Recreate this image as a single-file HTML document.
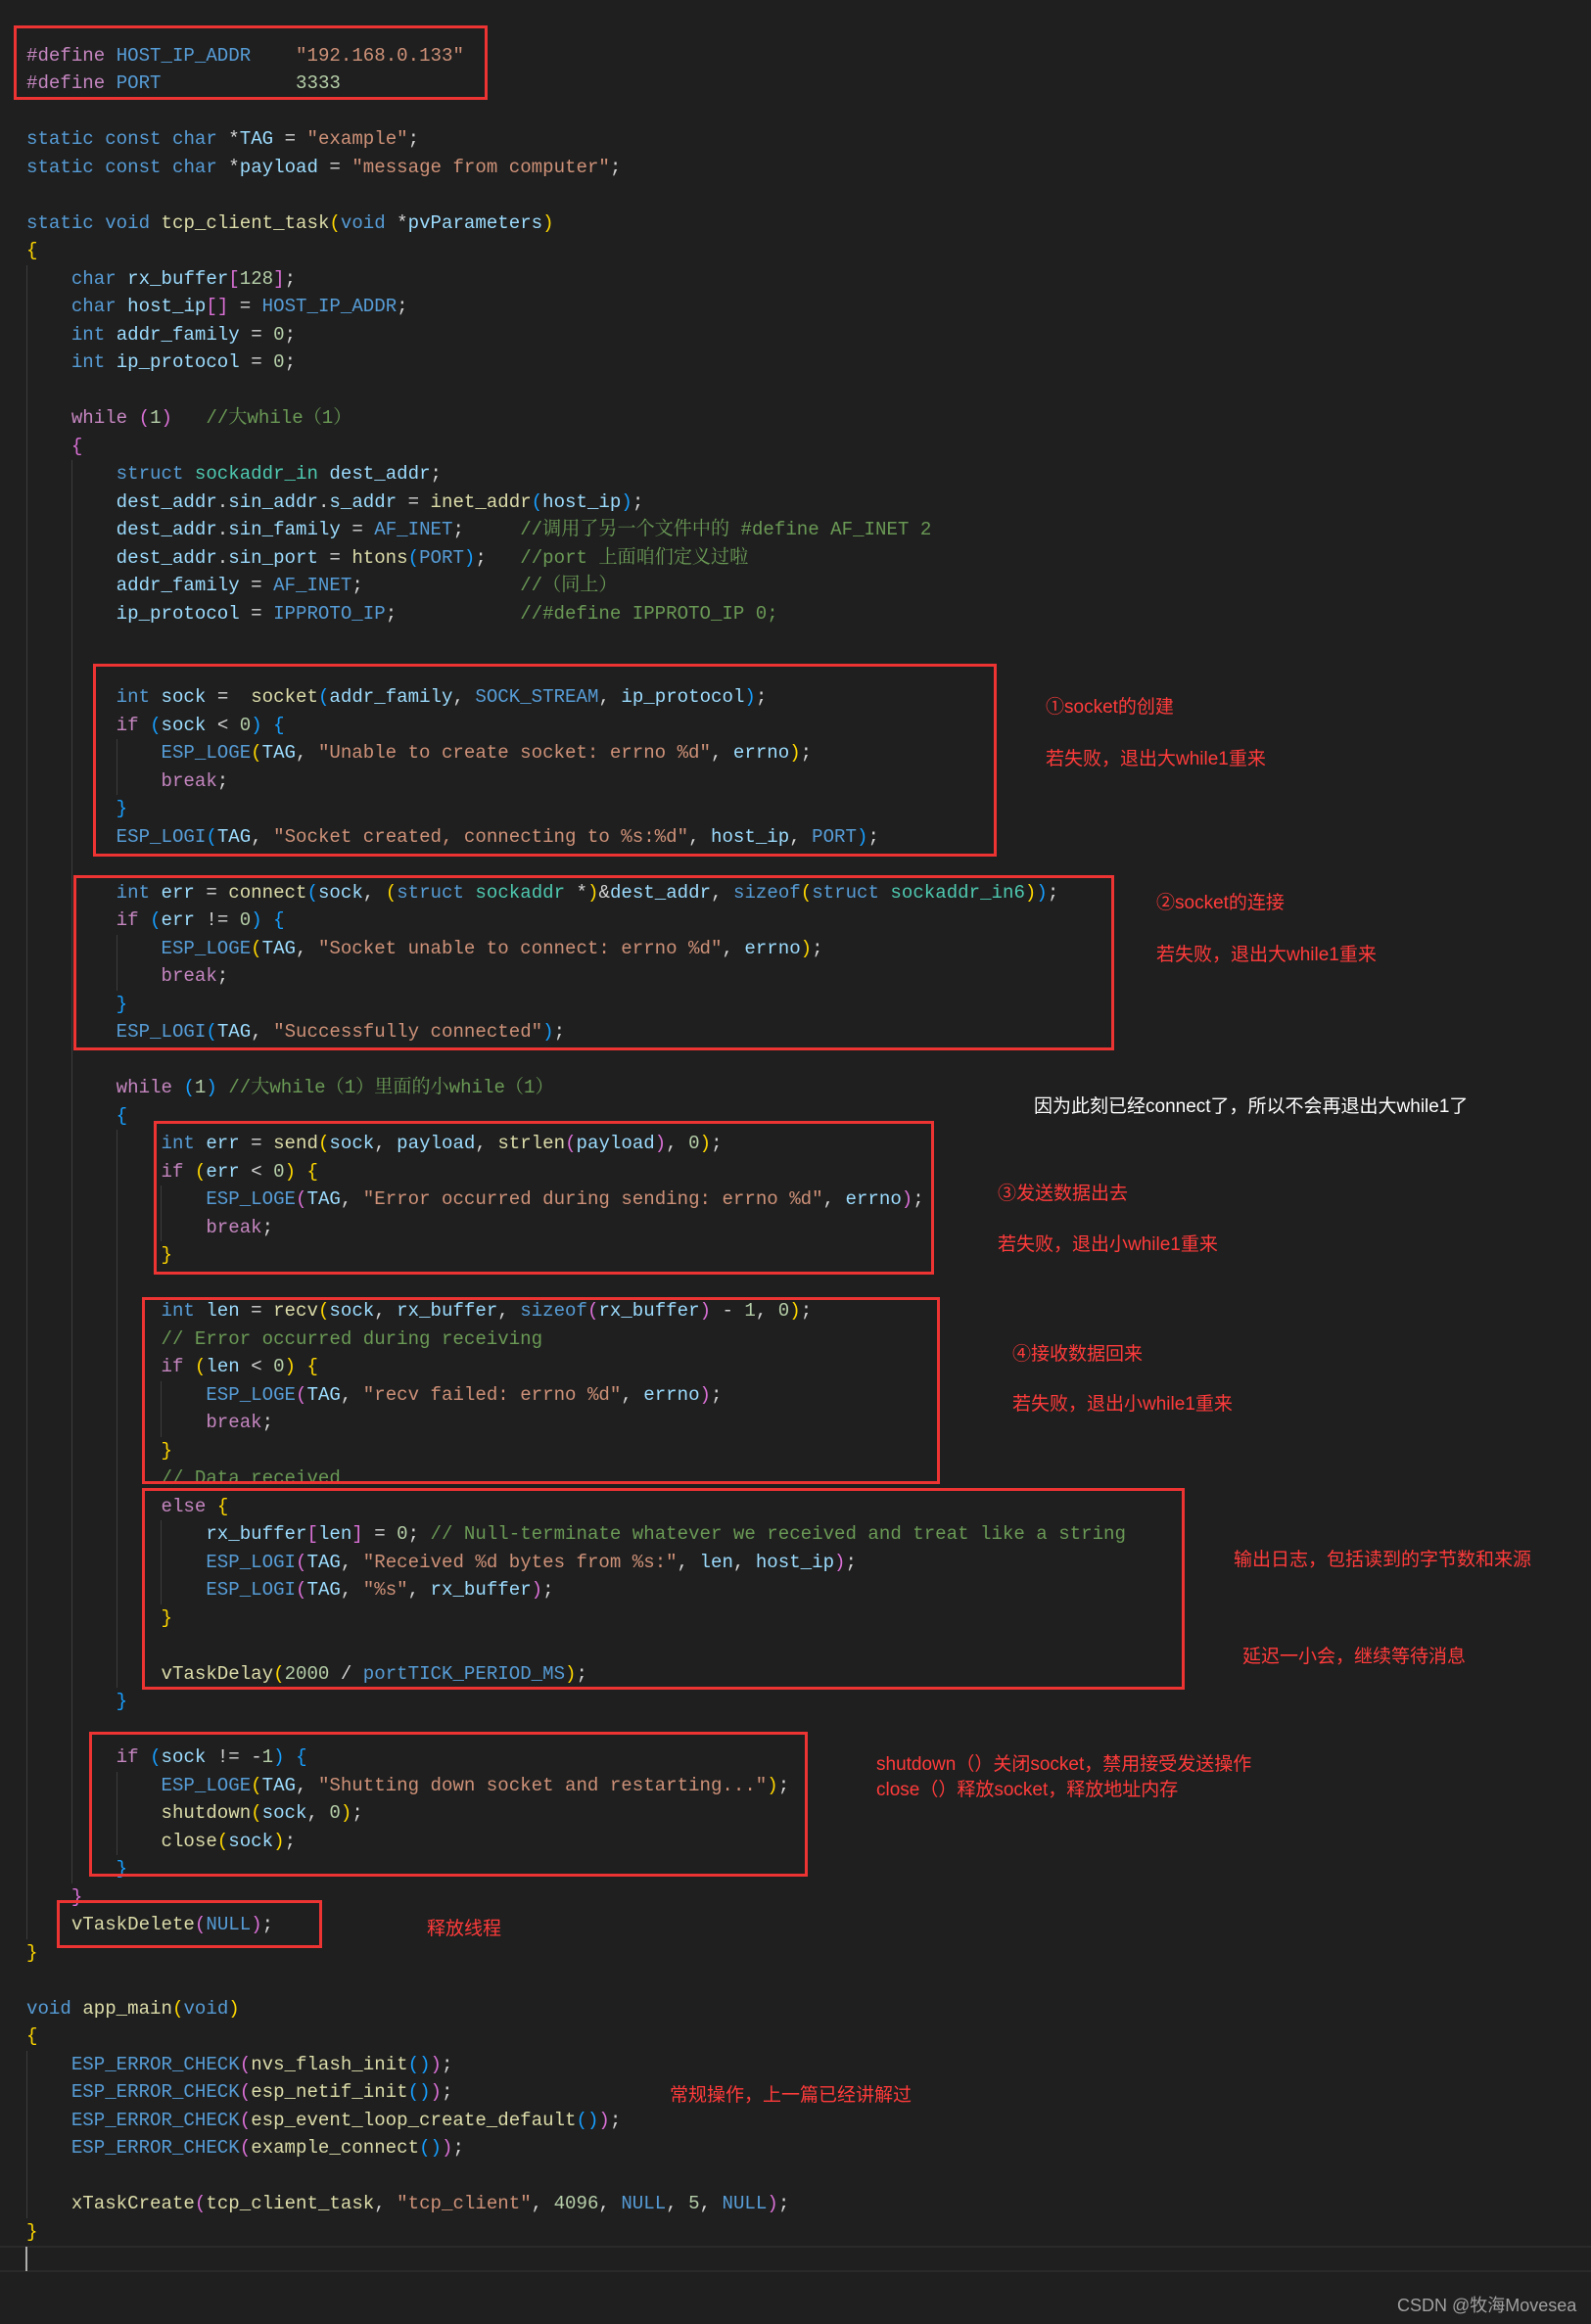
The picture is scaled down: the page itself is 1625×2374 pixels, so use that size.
<!DOCTYPE html>
<html><head><meta charset="utf-8"><style>
html,body{margin:0;padding:0;background:#1f1f1f;}
body{width:1625px;height:2374px;position:relative;overflow:hidden;}
pre{position:absolute;left:27px;top:42.75px;margin:0;font-family:"Liberation Mono","Noto Sans CJK SC",monospace;font-size:19.1px;line-height:28.5px;color:#d4d4d4;white-space:pre;}
.k{color:#569cd6}.c{color:#c586c0}.f{color:#dcdcaa}.v{color:#9cdcfe}.s{color:#ce9178}.n{color:#b5cea8}.cm{color:#6a9955}.cm2{color:#6a9955;font-family:"Liberation Mono","Noto Serif CJK SC",monospace}.t{color:#4ec9b0}
.y{color:#ffd700}.p{color:#da70d6}.b{color:#179fff}
.box{position:absolute;border:3px solid #ee3333;box-sizing:border-box;}
.g{position:absolute;width:1px;background:#3c3c3c;}
.a{position:absolute;font-family:"Liberation Sans","Noto Sans CJK SC",sans-serif;font-size:19px;color:#ff3b3b;white-space:nowrap;line-height:1;}
</style></head><body>
<div class="g" style="left:27px;top:270.75px;height:1710px"></div>
<div class="g" style="left:73px;top:470.25px;height:1453.5px"></div>
<div class="g" style="left:118.6px;top:755.25px;height:57px"></div>
<div class="g" style="left:118.6px;top:954.75px;height:57px"></div>
<div class="g" style="left:118.6px;top:1154.25px;height:570px"></div>
<div class="g" style="left:164px;top:1211.25px;height:57px"></div>
<div class="g" style="left:164px;top:1410.75px;height:57px"></div>
<div class="g" style="left:164px;top:1553.25px;height:85.5px"></div>
<div class="g" style="left:118.6px;top:1809.75px;height:85.5px"></div>
<div class="g" style="left:27px;top:2094.75px;height:171px"></div>
<pre><span class="c">#define</span> <span class="k">HOST_IP_ADDR</span>    <span class="s">"192.168.0.133"</span>
<span class="c">#define</span> <span class="k">PORT</span>            <span class="n">3333</span>

<span class="k">static</span> <span class="k">const</span> <span class="k">char</span> *<span class="v">TAG</span> = <span class="s">"example"</span>;
<span class="k">static</span> <span class="k">const</span> <span class="k">char</span> *<span class="v">payload</span> = <span class="s">"message from computer"</span>;

<span class="k">static</span> <span class="k">void</span> <span class="f">tcp_client_task</span><span class="y">(</span><span class="k">void</span> *<span class="v">pvParameters</span><span class="y">)</span>
<span class="y">{</span>
    <span class="k">char</span> <span class="v">rx_buffer</span><span class="p">[</span><span class="n">128</span><span class="p">]</span>;
    <span class="k">char</span> <span class="v">host_ip</span><span class="p">[]</span> = <span class="k">HOST_IP_ADDR</span>;
    <span class="k">int</span> <span class="v">addr_family</span> = <span class="n">0</span>;
    <span class="k">int</span> <span class="v">ip_protocol</span> = <span class="n">0</span>;

    <span class="c">while</span> <span class="p">(</span><span class="n">1</span><span class="p">)</span>   <span class="cm2">//大while（1）</span>
    <span class="p">{</span>
        <span class="k">struct</span> <span class="t">sockaddr_in</span> <span class="v">dest_addr</span>;
        <span class="v">dest_addr</span>.<span class="v">sin_addr</span>.<span class="v">s_addr</span> = <span class="f">inet_addr</span><span class="b">(</span><span class="v">host_ip</span><span class="b">)</span>;
        <span class="v">dest_addr</span>.<span class="v">sin_family</span> = <span class="k">AF_INET</span>;     <span class="cm2">//调用了另一个文件中的 #define AF_INET 2</span>
        <span class="v">dest_addr</span>.<span class="v">sin_port</span> = <span class="f">htons</span><span class="b">(</span><span class="k">PORT</span><span class="b">)</span>;   <span class="cm2">//port 上面咱们定义过啦</span>
        <span class="v">addr_family</span> = <span class="k">AF_INET</span>;              <span class="cm2">//（同上）</span>
        <span class="v">ip_protocol</span> = <span class="k">IPPROTO_IP</span>;           <span class="cm2">//#define IPPROTO_IP 0;</span>


        <span class="k">int</span> <span class="v">sock</span> =  <span class="f">socket</span><span class="b">(</span><span class="v">addr_family</span>, <span class="k">SOCK_STREAM</span>, <span class="v">ip_protocol</span><span class="b">)</span>;
        <span class="c">if</span> <span class="b">(</span><span class="v">sock</span> &lt; <span class="n">0</span><span class="b">)</span> <span class="b">{</span>
            <span class="k">ESP_LOGE</span><span class="y">(</span><span class="v">TAG</span>, <span class="s">"Unable to create socket: errno %d"</span>, <span class="v">errno</span><span class="y">)</span>;
            <span class="c">break</span>;
        <span class="b">}</span>
        <span class="k">ESP_LOGI</span><span class="b">(</span><span class="v">TAG</span>, <span class="s">"Socket created, connecting to %s:%d"</span>, <span class="v">host_ip</span>, <span class="k">PORT</span><span class="b">)</span>;

        <span class="k">int</span> <span class="v">err</span> = <span class="f">connect</span><span class="b">(</span><span class="v">sock</span>, <span class="y">(</span><span class="k">struct</span> <span class="t">sockaddr</span> *<span class="y">)</span>&amp;<span class="v">dest_addr</span>, <span class="k">sizeof</span><span class="y">(</span><span class="k">struct</span> <span class="t">sockaddr_in6</span><span class="y">)</span><span class="b">)</span>;
        <span class="c">if</span> <span class="b">(</span><span class="v">err</span> != <span class="n">0</span><span class="b">)</span> <span class="b">{</span>
            <span class="k">ESP_LOGE</span><span class="y">(</span><span class="v">TAG</span>, <span class="s">"Socket unable to connect: errno %d"</span>, <span class="v">errno</span><span class="y">)</span>;
            <span class="c">break</span>;
        <span class="b">}</span>
        <span class="k">ESP_LOGI</span><span class="b">(</span><span class="v">TAG</span>, <span class="s">"Successfully connected"</span><span class="b">)</span>;

        <span class="c">while</span> <span class="b">(</span><span class="n">1</span><span class="b">)</span> <span class="cm2">//大while（1）里面的小while（1）</span>
        <span class="b">{</span>
            <span class="k">int</span> <span class="v">err</span> = <span class="f">send</span><span class="y">(</span><span class="v">sock</span>, <span class="v">payload</span>, <span class="f">strlen</span><span class="p">(</span><span class="v">payload</span><span class="p">)</span>, <span class="n">0</span><span class="y">)</span>;
            <span class="c">if</span> <span class="y">(</span><span class="v">err</span> &lt; <span class="n">0</span><span class="y">)</span> <span class="y">{</span>
                <span class="k">ESP_LOGE</span><span class="p">(</span><span class="v">TAG</span>, <span class="s">"Error occurred during sending: errno %d"</span>, <span class="v">errno</span><span class="p">)</span>;
                <span class="c">break</span>;
            <span class="y">}</span>

            <span class="k">int</span> <span class="v">len</span> = <span class="f">recv</span><span class="y">(</span><span class="v">sock</span>, <span class="v">rx_buffer</span>, <span class="k">sizeof</span><span class="p">(</span><span class="v">rx_buffer</span><span class="p">)</span> - <span class="n">1</span>, <span class="n">0</span><span class="y">)</span>;
            <span class="cm">// Error occurred during receiving</span>
            <span class="c">if</span> <span class="y">(</span><span class="v">len</span> &lt; <span class="n">0</span><span class="y">)</span> <span class="y">{</span>
                <span class="k">ESP_LOGE</span><span class="p">(</span><span class="v">TAG</span>, <span class="s">"recv failed: errno %d"</span>, <span class="v">errno</span><span class="p">)</span>;
                <span class="c">break</span>;
            <span class="y">}</span>
            <span class="cm">// Data received</span>
            <span class="c">else</span> <span class="y">{</span>
                <span class="v">rx_buffer</span><span class="p">[</span><span class="v">len</span><span class="p">]</span> = <span class="n">0</span>; <span class="cm">// Null-terminate whatever we received and treat like a string</span>
                <span class="k">ESP_LOGI</span><span class="p">(</span><span class="v">TAG</span>, <span class="s">"Received %d bytes from %s:"</span>, <span class="v">len</span>, <span class="v">host_ip</span><span class="p">)</span>;
                <span class="k">ESP_LOGI</span><span class="p">(</span><span class="v">TAG</span>, <span class="s">"%s"</span>, <span class="v">rx_buffer</span><span class="p">)</span>;
            <span class="y">}</span>

            <span class="f">vTaskDelay</span><span class="y">(</span><span class="n">2000</span> / <span class="k">portTICK_PERIOD_MS</span><span class="y">)</span>;
        <span class="b">}</span>

        <span class="c">if</span> <span class="b">(</span><span class="v">sock</span> != -<span class="n">1</span><span class="b">)</span> <span class="b">{</span>
            <span class="k">ESP_LOGE</span><span class="y">(</span><span class="v">TAG</span>, <span class="s">"Shutting down socket and restarting..."</span><span class="y">)</span>;
            <span class="f">shutdown</span><span class="y">(</span><span class="v">sock</span>, <span class="n">0</span><span class="y">)</span>;
            <span class="f">close</span><span class="y">(</span><span class="v">sock</span><span class="y">)</span>;
        <span class="b">}</span>
    <span class="p">}</span>
    <span class="f">vTaskDelete</span><span class="p">(</span><span class="k">NULL</span><span class="p">)</span>;
<span class="y">}</span>

<span class="k">void</span> <span class="f">app_main</span><span class="y">(</span><span class="k">void</span><span class="y">)</span>
<span class="y">{</span>
    <span class="k">ESP_ERROR_CHECK</span><span class="p">(</span><span class="f">nvs_flash_init</span><span class="b">()</span><span class="p">)</span>;
    <span class="k">ESP_ERROR_CHECK</span><span class="p">(</span><span class="f">esp_netif_init</span><span class="b">()</span><span class="p">)</span>;
    <span class="k">ESP_ERROR_CHECK</span><span class="p">(</span><span class="f">esp_event_loop_create_default</span><span class="b">()</span><span class="p">)</span>;
    <span class="k">ESP_ERROR_CHECK</span><span class="p">(</span><span class="f">example_connect</span><span class="b">()</span><span class="p">)</span>;

    <span class="f">xTaskCreate</span><span class="p">(</span><span class="f">tcp_client_task</span>, <span class="s">"tcp_client"</span>, <span class="n">4096</span>, <span class="k">NULL</span>, <span class="n">5</span>, <span class="k">NULL</span><span class="p">)</span>;
<span class="y">}</span>
</pre>
<div style="position:absolute;left:0;top:2294px;width:1625px;height:27px;border-top:2px solid #2a2a2a;border-bottom:2px solid #2a2a2a;box-sizing:border-box"></div>
<div style="position:absolute;left:26px;top:2295px;width:2px;height:25px;background:#aeafad"></div>

<div class="box" style="left:14px;top:26px;width:484px;height:76px"></div>
<div class="box" style="left:95px;top:678px;width:923px;height:197px"></div>
<div class="box" style="left:75px;top:894px;width:1063px;height:179px"></div>
<div class="box" style="left:157px;top:1145px;width:797px;height:157px"></div>
<div class="box" style="left:145px;top:1325px;width:815px;height:191px"></div>
<div class="box" style="left:145px;top:1520px;width:1065px;height:206px"></div>
<div class="box" style="left:91px;top:1769px;width:734px;height:148px"></div>
<div class="box" style="left:58px;top:1941px;width:271px;height:49px"></div>

<div class="a" style="left:1068px;top:713px">①socket的创建</div>
<div class="a" style="left:1068px;top:766px">若失败，退出大while1重来</div>
<div class="a" style="left:1181px;top:913px">②socket的连接</div>
<div class="a" style="left:1181px;top:966px">若失败，退出大while1重来</div>
<div class="a" style="left:1056px;top:1121px;color:#ffffff">因为此刻已经connect了，所以不会再退出大while1了</div>
<div class="a" style="left:1019px;top:1210px">③发送数据出去</div>
<div class="a" style="left:1019px;top:1262px">若失败，退出小while1重来</div>
<div class="a" style="left:1034px;top:1374px">④接收数据回来</div>
<div class="a" style="left:1034px;top:1425px">若失败，退出小while1重来</div>
<div class="a" style="left:1260px;top:1584px">输出日志，包括读到的字节数和来源</div>
<div class="a" style="left:1269px;top:1683px">延迟一小会，继续等待消息</div>
<div class="a" style="left:895px;top:1793px">shutdown（）关闭socket，禁用接受发送操作</div>
<div class="a" style="left:895px;top:1819px">close（）释放socket，释放地址内存</div>
<div class="a" style="left:436px;top:1961px">释放线程</div>
<div class="a" style="left:684px;top:2131px">常规操作，上一篇已经讲解过</div>
<div class="a" style="left:1427px;top:2346px;color:#a0a0a0;font-size:18px">CSDN @牧海Movesea</div>
</body></html>
